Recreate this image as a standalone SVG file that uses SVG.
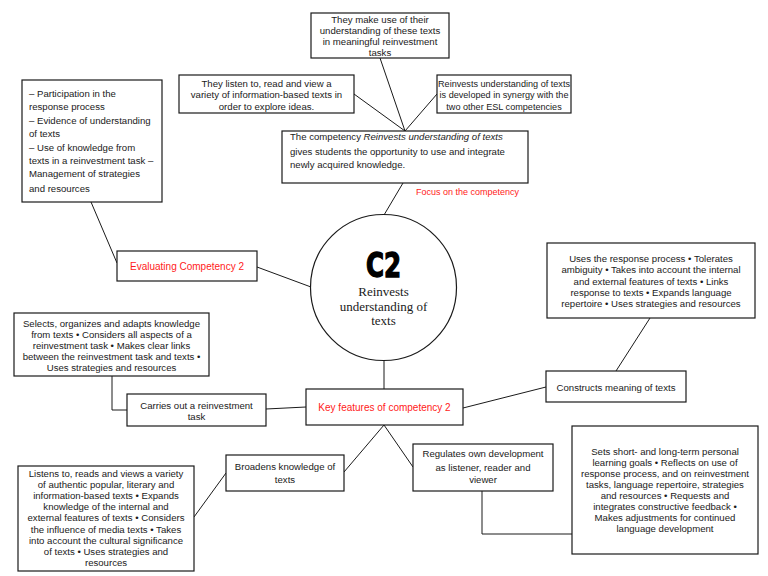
<svg xmlns="http://www.w3.org/2000/svg" width="768" height="576" viewBox="0 0 768 576">
<style>
.box{fill:#fff;stroke:#1a1a1a;stroke-width:1.2}
.t{font-family:"Liberation Sans",Arial,sans-serif;font-size:9.6px;fill:#1a1a1a}
.c{text-anchor:middle}
.red{fill:#ff1a1a;font-size:10px}
.ln{stroke:#1a1a1a;stroke-width:1;fill:none}
.serif{font-family:"Liberation Serif","Times New Roman",serif;font-size:13px;fill:#1a1a1a;text-anchor:middle}
</style>
<rect width="768" height="576" fill="#fff"/>
<g id="connectors">
<line class="ln" x1="380" y1="58" x2="405" y2="131"/>
<line class="ln" x1="354" y1="94" x2="405" y2="131"/>
<line class="ln" x1="437" y1="94" x2="405" y2="131"/>
<line class="ln" x1="403" y1="183" x2="384" y2="215"/>
<line class="ln" x1="91" y1="202" x2="117" y2="263"/>
<line class="ln" x1="257" y1="267" x2="311" y2="287"/>
<line class="ln" x1="650" y1="318" x2="616" y2="371"/>
<line class="ln" x1="463" y1="408" x2="546" y2="387"/>
<line class="ln" x1="384" y1="360" x2="384" y2="389"/>
<polyline class="ln" points="112,376 112,410 127,410"/>
<line class="ln" x1="266" y1="409" x2="306" y2="407"/>
<line class="ln" x1="194" y1="517" x2="226" y2="473"/>
<line class="ln" x1="384" y1="425" x2="344" y2="472"/>
<line class="ln" x1="384" y1="425" x2="413" y2="467"/>
<polyline class="ln" points="482,491 482,534 572,534"/>
</g>
<g id="n-top">
<rect class="box" x="311" y="13" width="138" height="45"/>
<text class="t c" x="380" y="22.5">They make use of their</text>
<text class="t c" x="380" y="33.5">understanding of these texts</text>
<text class="t c" x="380" y="44.5">in meaningful reinvestment</text>
<text class="t c" x="380" y="55.5">tasks</text>
</g>
<g id="n-listen">
<rect class="box" x="179" y="75" width="175" height="38"/>
<text class="t c" x="266.5" y="86.5">They listen to, read and view a</text>
<text class="t c" x="266.5" y="98">variety of information-based texts in</text>
<text class="t c" x="266.5" y="109.5">order to explore ideas.</text>
</g>
<g id="n-synergy">
<rect class="box" x="437" y="75" width="134" height="38"/>
<text class="t c" x="504" y="86.5" style="font-size:9.1px">Reinvests understanding of texts</text>
<text class="t c" x="504" y="98" style="font-size:9.1px">is developed in synergy with the</text>
<text class="t c" x="504" y="109.5" style="font-size:9.1px">two other ESL competencies</text>
</g>
<g id="n-focus">
<rect class="box" x="282" y="131" width="246" height="52"/>
<text class="t" x="290" y="140">The competency <tspan font-style="italic">Reinvests understanding of texts</tspan></text>
<text class="t" x="290" y="154.5">gives students the opportunity to use and integrate</text>
<text class="t" x="290" y="167.5">newly acquired knowledge.</text>
</g>
<g id="l-focus">
<text class="t red" x="416" y="195" style="font-size:9px">Focus on the competency</text>
</g>
<g id="n-criteria">
<rect class="box" x="22" y="80" width="140" height="122"/>
<text class="t" x="29" y="96.5">– Participation in the</text>
<text class="t" x="29" y="109.5">response process</text>
<text class="t" x="29" y="123.5">– Evidence of understanding</text>
<text class="t" x="29" y="136.5">of texts</text>
<text class="t" x="29" y="150.5">– Use of knowledge from</text>
<text class="t" x="29" y="163.5">texts in a reinvestment task –</text>
<text class="t" x="29" y="176.5">Management of strategies</text>
<text class="t" x="29" y="191.5">and resources</text>
</g>
<g id="n-evaluating">
<rect class="box" x="117" y="251" width="140" height="30"/>
<text class="t c red" x="187" y="269.5">Evaluating Competency 2</text>
</g>
<g id="n-center">
<circle cx="383.5" cy="287.5" r="73" fill="#fff" stroke="#1a1a1a" stroke-width="1.2"/>
<text transform="translate(383.5,276.5) scale(1.05,1.3)" x="0" y="0" text-anchor="middle" style="font-family:'DejaVu Sans Condensed','DejaVu Sans',sans-serif;font-weight:bold;font-size:26px;fill:#000;stroke:#000;stroke-width:1">C2</text>
<text class="serif" x="383.5" y="296">Reinvests</text>
<text class="serif" x="383.5" y="311">understanding of</text>
<text class="serif" x="383.5" y="324.5">texts</text>
</g>
<g id="n-uses">
<rect class="box" x="547" y="243" width="208" height="75"/>
<text class="t c" x="651" y="261.5">Uses the response process • Tolerates</text>
<text class="t c" x="651" y="273">ambiguity • Takes into account the internal</text>
<text class="t c" x="651" y="284.5">and external features of texts • Links</text>
<text class="t c" x="651" y="295.5">response to texts • Expands language</text>
<text class="t c" x="651" y="306.5">repertoire • Uses strategies and resources</text>
</g>
<g id="n-constructs">
<rect class="box" x="546" y="371" width="140" height="31"/>
<text class="t c" x="616" y="390.5">Constructs meaning of texts</text>
</g>
<g id="n-key">
<rect class="box" x="306" y="389" width="157" height="36"/>
<text class="t c red" x="384.5" y="410.5">Key features of competency 2</text>
</g>
<g id="n-selects">
<rect class="box" x="14" y="313" width="195" height="63"/>
<text class="t c" x="111.5" y="326.5">Selects, organizes and adapts knowledge</text>
<text class="t c" x="111.5" y="337.5">from texts • Considers all aspects of a</text>
<text class="t c" x="111.5" y="348.5">reinvestment task • Makes clear links</text>
<text class="t c" x="111.5" y="359.5">between the reinvestment task and texts •</text>
<text class="t c" x="111.5" y="370.5">Uses strategies and resources</text>
</g>
<g id="n-carries">
<rect class="box" x="127" y="394" width="139" height="32"/>
<text class="t c" x="196.5" y="408.5">Carries out a reinvestment</text>
<text class="t c" x="196.5" y="419.5">task</text>
</g>
<g id="n-listens">
<rect class="box" x="18" y="466" width="176" height="105"/>
<text class="t c" x="106" y="476.5">Listens to, reads and views a variety</text>
<text class="t c" x="106" y="487.7">of authentic popular, literary and</text>
<text class="t c" x="106" y="499">information-based texts • Expands</text>
<text class="t c" x="106" y="510.2">knowledge of the internal and</text>
<text class="t c" x="106" y="521.4">external features of texts • Considers</text>
<text class="t c" x="106" y="532.6">the influence of media texts • Takes</text>
<text class="t c" x="106" y="543.8">into account the cultural significance</text>
<text class="t c" x="106" y="555">of texts • Uses strategies and</text>
<text class="t c" x="106" y="566.2">resources</text>
</g>
<g id="n-broadens">
<rect class="box" x="226" y="455" width="118" height="36"/>
<text class="t c" x="285" y="469.5">Broadens knowledge of</text>
<text class="t c" x="285" y="482.5">texts</text>
</g>
<g id="n-regulates">
<rect class="box" x="413" y="444" width="140" height="47"/>
<text class="t c" x="483" y="456.5">Regulates own development</text>
<text class="t c" x="483" y="470.5">as listener, reader and</text>
<text class="t c" x="483" y="482.5">viewer</text>
</g>
<g id="n-sets">
<rect class="box" x="572" y="426" width="186" height="128"/>
<text class="t c" x="665" y="454.5">Sets short- and long-term personal</text>
<text class="t c" x="665" y="465.5">learning goals • Reflects on use of</text>
<text class="t c" x="665" y="476.5">response process, and on reinvestment</text>
<text class="t c" x="665" y="487.5">tasks, language repertoire, strategies</text>
<text class="t c" x="665" y="499">and resources • Requests and</text>
<text class="t c" x="665" y="510">integrates constructive feedback •</text>
<text class="t c" x="665" y="521">Makes adjustments for continued</text>
<text class="t c" x="665" y="532">language development</text>
</g>
</svg>
